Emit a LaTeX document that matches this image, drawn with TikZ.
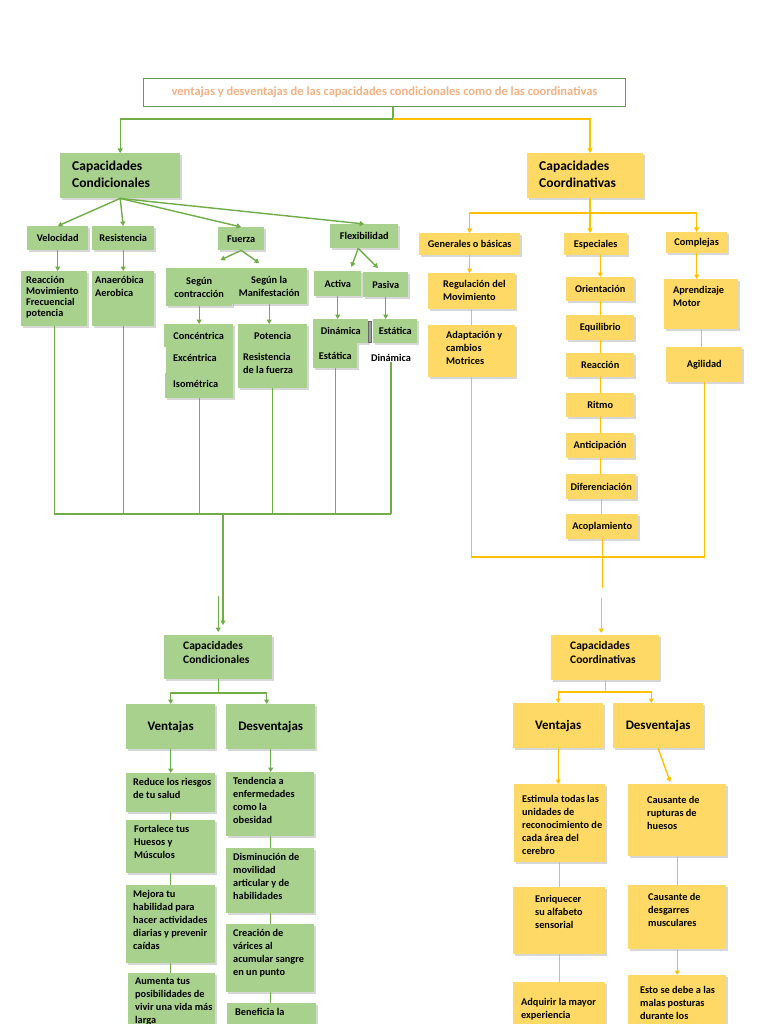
\documentclass[tikz,border=0pt]{standalone}
\usepackage{fontspec}
\setmainfont{Carlito}
\usetikzlibrary{arrows.meta, positioning, calc, shadows}
\definecolor{gfill}{HTML}{A9D18E}
\definecolor{gdark}{HTML}{70AD47}
\definecolor{yfill}{HTML}{FFD966}
\definecolor{ydark}{HTML}{FFC000}
\definecolor{tpeach}{HTML}{F4B183}
\definecolor{tframe}{HTML}{6A9955}
\newcommand{\titf}{\fontsize{12.5}{15}\selectfont\bfseries}
\newcommand{\bigf}{\fontsize{13.5}{17}\selectfont\bfseries}
\newcommand{\midf}{\fontsize{11.5}{14.5}\selectfont\bfseries}
\newcommand{\venf}{\fontsize{13}{16}\selectfont\bfseries}
\newcommand{\smf}{\fontsize{10.3}{13}\selectfont\bfseries}
\newcommand{\tgtf}{\fontsize{10.3}{11}\selectfont\bfseries}
\tikzset{
  every picture/.style={x=1pt, y=-1pt},
  sh/.style={drop shadow={shadow xshift=1.5pt, shadow yshift=-2pt, opacity=0.22, fill=black!70}},
  gbox/.style={fill=gfill, sh, anchor=north west, inner sep=0pt, font=\smf, align=center},
  ybox/.style={fill=yfill, sh, anchor=north west, inner sep=0pt, font=\smf, align=center},
  txt/.style={font=\smf, align=left, inner sep=0pt, text=black},
  tl/.style n args={4}{label={[txt, font=#3, anchor=north west, xshift=#1pt, yshift=-#2pt]north west:#4}},
  gln/.style={draw=gdark, line width=1.4pt},
  garrow/.style={gln, -{Triangle[length=4.5pt, width=5pt]}},
  yln/.style={draw=ydark, line width=1.4pt},
  yarrow/.style={yln, -{Triangle[length=4.5pt, width=5pt]}},
}
\begin{document}
\begin{tikzpicture}
  \fill[white] (0,0) rectangle (768,1024);
  \useasboundingbox (0,0) rectangle (768,1024);
  \clip (0,0) rectangle (768,1024);
  \node[draw=tframe, line width=1pt, minimum width=482pt, minimum height=28pt, anchor=north west,
        inner sep=0pt, text=tpeach, font=\titf] (title) at (143,78)
        {ventajas y desventajas de las capacidades condicionales como de las coordinativas};
  % capacidades condicionales
  \node[gbox, minimum width=120pt, minimum height=45pt, tl={12}{8}{\bigf}{Capacidades\\Condicionales}] (cc1) at (60,153) {};
  \node[gbox, minimum width=61pt, minimum height=24pt] (vel) at (27,226) {Velocidad};
  \node[gbox, minimum width=62pt, minimum height=24pt] (res) at (92,226) {Resistencia};
  \node[gbox, minimum width=46pt, minimum height=23pt] (fue) at (218,227) {Fuerza};
  \node[gbox, minimum width=68pt, minimum height=24pt] (flex) at (330,224) {Flexibilidad};
  \node[gbox, minimum width=66pt, minimum height=55pt, tl={5}{5}{\tgtf}{Reacción\\Movimiento\\Frecuencial\\potencia}] (reac) at (21,271) {};
  \node[gbox, minimum width=62pt, minimum height=55pt, tl={3}{5}{\smf}{Anaeróbica\\Aerobica}] (anae) at (92,271) {};
  \node[gbox, minimum width=66pt, minimum height=38pt] (scon) at (166,268) {Según\\contracción};
  \node[gbox, minimum width=76pt, minimum height=36pt] (sman) at (231,268) {Según la\\Manifestación};
  \node[gbox, minimum width=69pt, minimum height=23pt] (conc) at (164,324) {Concéntrica};
  \node[gbox, minimum width=67pt, minimum height=26pt, tl={7}{7}{\smf}{Excéntrica}] (exc) at (166,347) {};
  \node[gbox, minimum width=68pt, minimum height=25pt, tl={8}{7}{\smf}{Isométrica}] (iso) at (165,373) {};
  \node[gbox, minimum width=69pt, minimum height=23pt] (pot) at (238,324) {Potencia};
  \node[gbox, minimum width=69pt, minimum height=41pt, tl={5}{6}{\smf}{Resistencia\\de la fuerza}] (rfz) at (238,347) {};
  \node[gbox, minimum width=47pt, minimum height=25pt] (act) at (314,271) {Activa};
  \node[gbox, minimum width=45pt, minimum height=25pt] (pas) at (363,272) {Pasiva};
  \node[gbox, minimum width=55pt, minimum height=24pt] (din1) at (313,319) {Dinámica};
  \node[gbox, minimum width=44pt, minimum height=25pt] (est1) at (313,343) {Estática};
  \node[gbox, minimum width=44pt, minimum height=24pt] (est2) at (373,319) {Estática};
  \node[txt] (din2) at (391,358) {Dinámica};
  \draw[black!60, fill=gfill!50!black!60] (368.5,321) rectangle (371.5,342);
  \draw[gln] (title.south -| 393,0) -- (393,119) coordinate (tfork);
  \draw[garrow] (tfork) -| (cc1.north);
  \foreach \n in {vel, res, fue, flex} \draw[garrow] (cc1.south) -- (\n.north);
  \foreach \a/\b in {vel/reac, res/anae, scon/conc, sman/pot, act/din1, pas/est2}
    \draw[garrow] (\a.south) -- (\a.south |- \b.north);
  \draw[garrow] (fue.south) -- ($(scon.north east)+(-12,-8)$);
  \draw[garrow] (fue.south) -- ($(sman.north)+(-10,-5)$);
  \draw[garrow] ($(flex.south)+(-6,0)$) -- ($(act.north east)+(-10,-4)$);
  \draw[garrow] ($(flex.south)+(-6,0)$) -- ($(pas.north west)+(15,-4)$);
  \coordinate (lbar) at (0,514);
  \foreach \n in {reac, anae, iso, rfz, est1, din2} \draw[gln] (\n.south) -- (\n.south |- lbar);
  \draw[gln] (reac.south |- lbar) -- (din2.south |- lbar);
  % capacidades coordinativas
  \coordinate (yfork) at (590,213);
  \node[ybox, minimum width=116pt, minimum height=45pt, tl={12}{8}{\bigf}{Capacidades\\Coordinativas}] (ccy1) at (527,153) {};
  \node[ybox, minimum width=101pt, minimum height=22pt] (gen) at (419,233) {Generales o básicas};
  \node[ybox, minimum width=63pt, minimum height=22pt] (esp) at (564,233) {Especiales};
  \node[ybox, minimum width=61pt, minimum height=21pt] (comp) at (666,232) {Complejas};
  \node[ybox, minimum width=87pt, minimum height=36pt, tl={15}{7}{\smf}{Regulación del\\Movimiento}] (reg) at (428,273) {};
  \node[ybox, minimum width=87pt, minimum height=52pt, tl={18}{6}{\smf}{Adaptación y\\cambios\\Motrices}] (adap) at (428,325) {};
  \node[ybox, minimum width=68pt, minimum height=24pt] (ori) at (566,277) {Orientación};
  \node[ybox, minimum width=68pt, minimum height=25pt] (equi) at (566,315) {Equilibrio};
  \node[ybox, minimum width=68pt, minimum height=24pt] (reacy) at (566,353) {Reacción};
  \node[ybox, minimum width=68pt, minimum height=24pt] (ritmo) at (566,393) {Ritmo};
  \node[ybox, minimum width=68pt, minimum height=25pt] (anti) at (566,433) {Anticipación};
  \node[ybox, minimum width=70pt, minimum height=25pt] (dif) at (566,474) {Diferenciación};
  \node[ybox, minimum width=72pt, minimum height=25pt] (acop) at (566,514) {Acoplamiento};
  \node[ybox, minimum width=74pt, minimum height=50pt, tl={9}{7}{\smf}{Aprendizaje\\Motor}] (apr) at (664,279) {};
  \node[ybox, minimum width=76pt, minimum height=35pt] (agil) at (666,347) {Agilidad};
  \draw[yarrow] (tfork) -| (yfork |- ccy1.north);
  \draw[yln] (yfork |- ccy1.south) -- (yfork);
  \draw[yarrow] (yfork) -| (gen.north);
  \draw[yarrow] (yfork) -| (comp.north);
  \draw[yarrow] (yfork) -- (yfork |- esp.north);
  \draw[yarrow] (gen.south) -- (gen.south |- reg.north);
  \draw[yln] (reg.south) -- (reg.south |- adap.north);
  \draw[yarrow] (esp.south -| ori.north) -- (ori.north);
  \foreach \a/\b in {ori/equi, equi/reacy, reacy/ritmo, ritmo/anti, anti/dif, dif/acop}
    \draw[yln] (\a.south) -- (\a.south |- \b.north);
  \draw[yarrow] (comp.south) -- (comp.south |- apr.north);
  \draw[yln] (apr.south) -- (apr.south |- agil.north);
  \coordinate (ybar) at (0,557);
  \draw[yln] (adap.south) -- (adap.south |- ybar) -- (agil.south |- ybar) -- (agil.south);
  \draw[yln] (acop.south) -- ($(acop.south |- ybar)+(0,31)$);
  % ventajas y desventajas: condicionales
  \node[gbox, minimum width=108pt, minimum height=44pt, tl={19}{6}{\midf}{Capacidades\\Condicionales}] (cc2) at (164,635) {};
  \node[gbox, minimum width=89pt, minimum height=45pt, font=\venf] (vg) at (126,704) {Ventajas};
  \node[gbox, minimum width=89pt, minimum height=45pt, font=\venf] (dvg) at (226,704) {Desventajas};
  \node[gbox, minimum width=89pt, minimum height=39pt, tl={7}{5}{\smf}{Reduce los riesgos\\de tu salud}] (reduce) at (126,773) {};
  \node[gbox, minimum width=89pt, minimum height=53pt, tl={8}{5}{\smf}{Fortalece tus\\Huesos y\\Músculos}] (fort) at (126,820) {};
  \node[gbox, minimum width=89pt, minimum height=78pt, tl={7}{5}{\smf}{Mejora tu\\habilidad para\\hacer actividades\\diarias y prevenir\\caídas}] (mejora) at (126,885) {};
  \node[gbox, minimum width=87pt, minimum height=60pt, tl={7}{5}{\smf}{Aumenta tus\\posibilidades de\\vivir una vida más\\larga}] (aum) at (128,973) {};
  \node[gbox, minimum width=88pt, minimum height=64pt, tl={7}{5}{\smf}{Tendencia a\\enfermedades\\como la\\obesidad}] (tend) at (226,772) {};
  \node[gbox, minimum width=88pt, minimum height=65pt, tl={7}{5}{\smf}{Disminución de\\movilidad\\articular y de\\habilidades}] (dism) at (226,848) {};
  \node[gbox, minimum width=88pt, minimum height=68pt, tl={7}{5}{\smf}{Creación de\\várices al\\acumular sangre\\en un punto}] (crea) at (226,924) {};
  \node[gbox, minimum width=89pt, minimum height=40pt, tl={8}{5}{\smf}{Beneficia la}] (ben) at (227,1003) {};
  \coordinate (lmid) at (223,514);
  \draw[garrow] (lmid) -- ($(lmid |- cc2.north)+(0,-10)$);
  \draw[garrow] ($(cc2.north)+(0,-39)$) -- ($(cc2.north)+(0,-3)$);
  \coordinate (gfork) at (218,693);
  \draw[gln] (cc2.south) -- (cc2.south |- gfork);
  \draw[garrow] (cc2.south |- gfork) -| (vg.north);
  \draw[garrow] (cc2.south |- gfork) -| ($(dvg.north)+(-4,0)$);
  \draw[garrow] (vg.south) -- (vg.south |- reduce.north);
  \draw[garrow] (dvg.south) -- (dvg.south |- tend.north);
  \foreach \a/\b in {reduce/fort, fort/mejora, mejora/aum, tend/dism, dism/crea, crea/ben}
    \draw[gln] (\a.south) -- (\a.south |- \b.north);
  % ventajas y desventajas: coordinativas
  \node[ybox, minimum width=108pt, minimum height=45pt, tl={19}{6}{\midf}{Capacidades\\Coordinativas}] (ccy2) at (551,635) {};
  \node[ybox, minimum width=90pt, minimum height=45pt, font=\venf] (vy) at (513,703) {Ventajas};
  \node[ybox, minimum width=90pt, minimum height=45pt, font=\venf] (dvy) at (613,703) {Desventajas};
  \node[ybox, minimum width=91pt, minimum height=78pt, tl={8}{11}{\smf}{Estimula todas las\\unidades de\\reconocimiento de\\cada área del\\cerebro}] (est) at (514,784) {};
  \node[ybox, minimum width=98pt, minimum height=72pt, tl={19}{12}{\smf}{Causante de\\rupturas de\\huesos}] (crup) at (628,784) {};
  \node[ybox, minimum width=92pt, minimum height=67pt, tl={22}{8}{\smf}{Enriquecer\\su alfabeto\\sensorial}] (enr) at (513,887) {};
  \node[ybox, minimum width=98pt, minimum height=64pt, tl={20}{8}{\smf}{Causante de\\desgarres\\musculares}] (cdes) at (628,885) {};
  \node[ybox, minimum width=92pt, minimum height=60pt, tl={8}{16}{\smf}{Adquirir la mayor\\experiencia}] (adq) at (513,982) {};
  \node[ybox, minimum width=98pt, minimum height=60pt, tl={12}{11}{\smf}{Esto se debe a las\\malas posturas\\durante los}] (esto) at (628,975) {};
  \draw[yarrow] ($(ccy2.north)+(-4,-37)$) -- ($(ccy2.north)+(-4,-2)$);
  \coordinate (yfork2) at (605,692);
  \draw[yln] (ccy2.south) -- (ccy2.south |- yfork2);
  \draw[yarrow] (ccy2.south |- yfork2) -| (vy.north);
  \draw[yarrow] (ccy2.south |- yfork2) -| ($(dvy.north)+(-7,0)$);
  \draw[yarrow] (vy.south) -- (vy.south |- est.north);
  \draw[yarrow] (dvy.south) -- ($(crup.north)+(-7,-2)$);
  \foreach \a/\b in {est/enr, enr/adq, crup/cdes}
    \draw[yln] (\a.south) -- (\a.south |- \b.north);
  \draw[yarrow] (cdes.south) -- (cdes.south |- esto.north);
\end{tikzpicture}
\end{document}
